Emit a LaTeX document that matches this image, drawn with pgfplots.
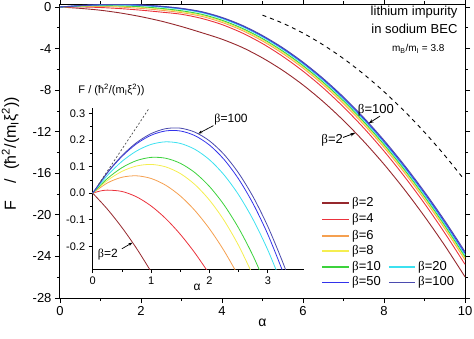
\documentclass[border=0pt]{standalone}
\usepackage{pgfplots}
\pgfplotsset{compat=1.18}
\usepackage{fontspec}
\setmainfont{Liberation Sans}
\newfontfamily\grk{Liberation Serif}
\usetikzlibrary{arrows.meta}
\definecolor{cbtwo}{RGB}{150,40,45}
\definecolor{cbfour}{RGB}{235,50,60}
\definecolor{cbsix}{RGB}{245,160,80}
\definecolor{cbeight}{RGB}{245,238,80}
\definecolor{cbten}{RGB}{60,210,60}
\definecolor{cbtwenty}{RGB}{60,225,240}
\definecolor{cbfifty}{RGB}{50,50,235}
\definecolor{cbhundred}{RGB}{75,75,175}
\newcommand{\B}{{\grk β}}
\tikzset{legnode/.style={font=\fontsize{13}{15}\selectfont, anchor=west, inner sep=0pt}}
\begin{document}
\begin{tikzpicture}
\begin{axis}[name=main, scale only axis, width=405pt, height=294pt,
  xmin=0, xmax=10, ymin=-28, ymax=0.29,
  xtick={0,2,...,10}, ytick={-28,-24,...,0},
  minor x tick num=1, minor y tick num=1,
  tick align=outside, major tick length=5pt, minor tick length=3pt,
  axis line style={line width=1pt},
  every tick/.style={black, line width=0.8pt},
  tick label style={font=\fontsize{13}{15}\selectfont},
  /pgf/number format/assume math mode=true,
  xlabel={α}, xlabel style={font=\fontsize{14}{16}\selectfont, at={(axis description cs:0.5,-0.085)}, anchor=center},
  ylabel={F\hspace{1.1em}/\hspace{0.6em}(ħ\textsuperscript{2}/(m\textsubscript{I}ξ\textsuperscript{2}))},
  ylabel style={font=\fontsize{16}{18}\selectfont, at={(axis description cs:-0.122,0.49)}, anchor=center},
  clip=false,
]
\addplot[cbtwo, line width=0.9pt, smooth] coordinates {(0,0)(0.5,-0.13)(1,-0.31)(1.5,-0.58)(2,-0.93)(2.5,-1.36)(3,-1.88)(3.5,-2.47)(4,-3.10)(4.5,-3.89)(5,-4.90)(5.5,-6.10)(6,-7.50)(6.5,-9.11)(7,-10.92)(7.5,-12.93)(8,-15.13)(8.5,-17.54)(9,-20.15)(9.5,-22.95)(10,-25.96)};
\addplot[cbfour, line width=0.9pt, smooth] coordinates {(0,0)(0.5,0.0065)(1,-0.048)(1.5,-0.155)(2,-0.304)(2.5,-0.49)(3,-0.70)(3.5,-1.10)(4,-1.69)(4.5,-2.50)(5,-3.52)(5.5,-4.75)(6,-6.17)(6.5,-7.79)(7,-9.62)(7.5,-11.64)(8,-13.86)(8.5,-16.29)(9,-18.91)(9.5,-21.74)(10,-24.76)};
\addplot[cbsix, line width=0.9pt, smooth] coordinates {(0,0)(0.5,0.060)(1,0.055)(1.5,-0.010)(2,-0.134)(2.5,-0.312)(3,-0.542)(3.5,-0.90)(4,-1.48)(4.5,-2.26)(5,-3.27)(5.5,-4.48)(6,-5.88)(6.5,-7.49)(7,-9.30)(7.5,-11.31)(8,-13.51)(8.5,-15.92)(9,-18.53)(9.5,-21.33)(10,-24.34)};
\addplot[cbeight, line width=0.9pt, smooth] coordinates {(0,0)(0.5,0.082)(1,0.108)(1.5,0.074)(2,-0.026)(2.5,-0.197)(3,-0.444)(3.5,-0.79)(4,-1.36)(4.5,-2.15)(5,-3.15)(5.5,-4.35)(6,-5.76)(6.5,-7.36)(7,-9.16)(7.5,-11.16)(8,-13.37)(8.5,-15.77)(9,-18.37)(9.5,-21.18)(10,-24.18)};
\addplot[cbten, line width=0.9pt, smooth] coordinates {(0,0)(0.5,0.096)(1,0.134)(1.5,0.112)(2,0.025)(2.5,-0.131)(3,-0.361)(3.5,-0.70)(4,-1.27)(4.5,-2.05)(5,-3.04)(5.5,-4.24)(6,-5.64)(6.5,-7.24)(7,-9.03)(7.5,-11.03)(8,-13.23)(8.5,-15.63)(9,-18.23)(9.5,-21.02)(10,-24.02)};
\addplot[cbtwenty, line width=0.9pt, smooth] coordinates {(0,0)(0.5,0.119)(1,0.183)(1.5,0.187)(2,0.126)(2.5,-0.006)(3,-0.214)(3.5,-0.55)(4,-1.12)(4.5,-1.89)(5,-2.89)(5.5,-4.08)(6,-5.48)(6.5,-7.08)(7,-8.87)(7.5,-10.87)(8,-13.07)(8.5,-15.46)(9,-18.06)(9.5,-20.85)(10,-23.85)};
\addplot[cbfifty, line width=0.9pt, smooth] coordinates {(0,0)(0.5,0.138)(1,0.218)(1.5,0.234)(2,0.181)(2.5,0.053)(3,-0.155)(3.5,-0.485)(4,-1.044)(4.5,-1.813)(5,-2.802)(5.5,-3.99)(6,-5.379)(6.5,-6.968)(7,-8.757)(7.5,-10.746)(8,-12.935)(8.5,-15.324)(9,-17.912)(9.5,-20.701)(10,-23.69)};
\addplot[cbhundred, line width=0.9pt, smooth] coordinates {(0,0)(0.5,0.141)(1,0.224)(1.5,0.244)(2,0.197)(2.5,0.075)(3,-0.125)(3.5,-0.45)(4,-1.0)(4.5,-1.76)(5,-2.74)(5.5,-3.92)(6,-5.3)(6.5,-6.88)(7,-8.66)(7.5,-10.64)(8,-12.82)(8.5,-15.2)(9,-17.78)(9.5,-20.56)(10,-23.54)};
\addplot[black, line width=0.9pt, dash pattern=on 4pt off 4pt, smooth] coordinates {(5.0,-0.783)(5.5,-1.556)(6,-2.511)(6.5,-3.647)(7,-4.965)(7.5,-6.464)(8,-8.145)(8.5,-10.01)(9,-12.05)(9.5,-14.28)(9.95,-16.45)};
% legend samples
\addplot[cbtwo, line width=1.5pt] coordinates {(6.47,-18.85)(7.14,-18.85)};
\addplot[cbfour, line width=1.5pt] coordinates {(6.47,-20.45)(7.14,-20.45)};
\addplot[cbsix, line width=1.5pt] coordinates {(6.47,-22.05)(7.14,-22.05)};
\addplot[cbeight, line width=1.5pt] coordinates {(6.47,-23.5)(7.14,-23.5)};
\addplot[cbten, line width=1.5pt] coordinates {(6.47,-25.03)(7.14,-25.03)};
\addplot[cbfifty, line width=1.5pt] coordinates {(6.47,-26.5)(7.14,-26.5)};
\addplot[cbtwenty, line width=1.5pt] coordinates {(8.12,-25.03)(8.77,-25.03)};
\addplot[cbhundred, line width=1.5pt] coordinates {(8.12,-26.5)(8.77,-26.5)};
\node[legnode] at (axis cs:7.21,-18.85) {\B=2};
\node[legnode] at (axis cs:7.21,-20.45) {\B=4};
\node[legnode] at (axis cs:7.21,-22.05) {\B=6};
\node[legnode] at (axis cs:7.21,-23.5) {\B=8};
\node[legnode] at (axis cs:7.21,-25.03) {\B=10};
\node[legnode] at (axis cs:7.21,-26.5) {\B=50};
\node[legnode] at (axis cs:8.84,-25.03) {\B=20};
\node[legnode] at (axis cs:8.84,-26.5) {\B=100};
\node[font=\fontsize{13}{15}\selectfont, anchor=east] at (axis description cs:0.99,0.973) {lithium impurity};
\node[font=\fontsize{13}{15}\selectfont, anchor=east] at (axis description cs:0.99,0.915) {in sodium BEC};
\node[font=\fontsize{10}{12}\selectfont, anchor=east] at (axis description cs:0.958,0.847) {m\textsubscript{B}/m\textsubscript{I} = 3.8};
\node[font=\fontsize{13}{15}\selectfont] at (axis cs:7.8,-9.9) {\B=100};
\draw[-{Stealth[length=5pt,width=3.5pt]}, line width=0.8pt] (axis cs:7.9,-10.5) -- (axis cs:7.62,-11.2);
\node[font=\fontsize{13}{15}\selectfont] at (axis cs:6.72,-12.8) {\B=2};
\draw[-{Stealth[length=5pt,width=3.5pt]}, line width=0.8pt] (axis cs:6.99,-12.55) -- (axis cs:7.29,-12.12);
\end{axis}
\begin{axis}[at={(main.south west)}, anchor=south west, xshift=32.7pt, yshift=29pt,
  scale only axis, width=211.3pt, height=161pt,
  xmin=0, xmax=3.62, ymin=-0.285, ymax=0.32,
  axis lines=left, axis line style={-, line width=0.8pt},
  xtick={0,1,2,3}, ytick={-0.2,-0.1,0,0.1,0.2,0.3},
  minor x tick num=1, minor y tick num=1,
  tick align=outside, major tick length=4pt, minor tick length=2.5pt,
  every tick/.style={black, line width=0.7pt},
  tick label style={font=\fontsize{11}{13}\selectfont},
  /pgf/number format/assume math mode=true,
  yticklabel style={/pgf/number format/.cd, fixed, fixed zerofill, precision=1},
  xticklabel style={/pgf/number format/.cd, fixed, precision=0},
  clip mode=individual,
]
\addplot[cbtwo, line width=0.8pt, smooth] coordinates {(0,0)(0.25,-0.0597)(0.5,-0.1288)(0.75,-0.2072)(1.0,-0.295)(1.1,-0.3328)};
\addplot[cbfour, line width=0.8pt, smooth] coordinates {(0,0)(0.125,0.0078)(0.25,0.0114)(0.5,0.0065)(0.75,-0.0137)(1.0,-0.048)(1.25,-0.0953)(1.5,-0.1545)(1.75,-0.2244)(2.0,-0.304)};
\addplot[cbsix, line width=0.8pt, smooth] coordinates {(0,0)(0.25,0.0381)(0.5,0.0597)(0.75,0.0652)(1.0,0.0552)(1.25,0.0299)(1.5,-0.0103)(1.75,-0.065)(2.0,-0.1338)(2.25,-0.2163)(2.5,-0.3121)};
\addplot[cbeight, line width=0.8pt, smooth] coordinates {(0,0)(0.25,0.0474)(0.5,0.0816)(0.75,0.102)(1.0,0.108)(1.25,0.0988)(1.5,0.0739)(1.75,0.0325)(2.0,-0.026)(2.25,-0.1022)(2.5,-0.1969)(2.75,-0.3106)};
\addplot[cbten, line width=0.8pt, smooth] coordinates {(0,0)(0.25,0.0546)(0.5,0.0956)(0.75,0.1223)(1.0,0.1344)(1.25,0.1313)(1.5,0.1123)(1.75,0.0772)(2.0,0.0252)(2.25,-0.0441)(2.5,-0.1313)(2.75,-0.2368)(3.0,-0.3612)};
\addplot[cbtwenty, line width=0.8pt, smooth] coordinates {(0,0)(0.25,0.0661)(0.5,0.1192)(0.75,0.1583)(1.0,0.1832)(1.25,0.1929)(1.5,0.187)(1.75,0.1648)(2.0,0.1256)(2.25,0.0687)(2.5,-0.0063)(2.75,-0.1002)(3.0,-0.2136)(3.25,-0.3472)};
\addplot[cbfifty, line width=0.8pt, smooth] coordinates {(0,0)(0.25,0.0758)(0.5,0.1378)(0.75,0.1853)(1.0,0.2176)(1.25,0.2339)(1.5,0.2337)(1.75,0.2162)(2.0,0.1808)(2.25,0.1266)(2.5,0.0531)(2.75,-0.0405)(3.0,-0.1548)(3.25,-0.2906)(3.35,-0.3511)};
\addplot[cbhundred, line width=0.8pt, smooth] coordinates {(0,0)(0.25,0.0771)(0.5,0.1406)(0.75,0.1898)(1.0,0.2238)(1.25,0.2423)(1.5,0.2443)(1.75,0.2293)(2.0,0.1966)(2.25,0.1455)(2.5,0.0753)(2.75,-0.0145)(3.0,-0.1249)(3.25,-0.2562)(3.4,-0.3454)};
\addplot[black!70, line width=0.7pt, dash pattern=on 2pt off 2pt] coordinates {(0.1,0.033)(0.97,0.32)};
\node[font=\fontsize{12}{14}\selectfont] at (axis cs:2.37,0.275) {\B=100};
\draw[-{Stealth[length=4pt,width=3pt]}, line width=0.7pt] (axis cs:2.07,0.254) -- (axis cs:1.81,0.224);
\node[font=\fontsize{12}{14}\selectfont] at (axis cs:0.26,-0.231) {\B=2};
\draw[-{Stealth[length=4pt,width=3pt]}, line width=0.7pt] (axis cs:0.50,-0.209) -- (axis cs:0.68,-0.186);
\node[font=\fontsize{12}{14}\selectfont] at (axis description cs:0.494,-0.112) {α};
\node[font=\fontsize{11}{13}\selectfont, anchor=west] at (axis description cs:-0.084,1.112) {F / (ħ\textsuperscript{2}/(m\textsubscript{I}ξ\textsuperscript{2}))};
\end{axis}
\pgfresetboundingbox
\useasboundingbox (main.south west) ++(-60pt,-40pt) rectangle ++(474pt,338pt);
\end{tikzpicture}
\end{document}
